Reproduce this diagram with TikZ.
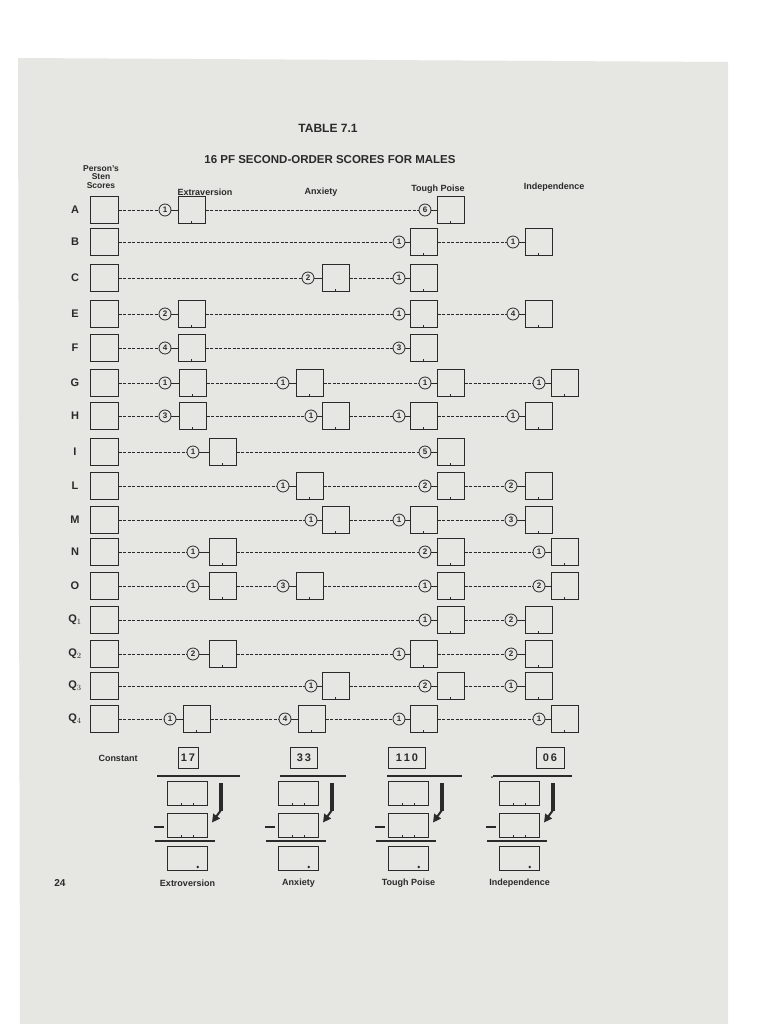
\documentclass[tikz,border=0pt]{standalone}
\usepackage{fontspec}
\setmainfont{Liberation Sans}
\usetikzlibrary{arrows.meta,calc}
\definecolor{paper}{HTML}{E6E6E2}
\definecolor{ink}{HTML}{2A2A2A}
\tikzset{
  lab/.style={font=\bfseries\fontsize{9}{10}\selectfont, text=ink},
  rlab/.style={font=\bfseries\fontsize{11}{11}\selectfont, text=ink},
  pbox/.style={draw=ink, line width=1pt, minimum width=28pt, minimum height=27pt, inner sep=0},
  sbox/.style={draw=ink, line width=1pt, minimum width=27pt, minimum height=27pt, inner sep=0},
  circ/.style={draw=ink, circle, line width=0.8pt, minimum size=12pt, inner sep=0, font=\bfseries\fontsize{8}{8}\selectfont, text=ink},
  conn/.style={draw=ink, line width=0.7pt, dash pattern=on 3pt off 1.5pt},
  wbox/.style={draw=ink, line width=1pt, minimum width=40pt, minimum height=24pt, inner sep=0},
  hl/.style={draw=ink, line width=1.1pt},
}
\newcommand\sfrow[4]{%
  \node[rlab] (#3-l) at (75,#1) {#2};
  \node[pbox] (#3-0) at (104,#1) {};
  \foreach \cx/\bx/\n [count=\i, remember=\i as \j (initially 0)] in {#4} {
    \node[circ] (#3-c\i) at (\cx,#1) {\n};
    \node[sbox] (#3-\i) at (\bx+13.5,#1) {};
    \draw[conn] (#3-\j.east) -- (#3-c\i.west);
    \draw[ink, line width=0.8pt] (#3-c\i.east) -- (#3-\i.west);
    \draw[ink, line width=0.9pt] (#3-\i.south) -- ++(0,-3);
  }}
\newcommand\sfcol[5]{% #1 box left x, #2 name, #3 label, #4 line start, #5 line end
  \node[wbox, anchor=north west] (#2-a) at (#1,781) {};
  \node[wbox, anchor=north west] (#2-b) at (#1,813) {};
  \node[wbox, anchor=north west] (#2-r) at (#1,846) {};
  \foreach \f in {0.36,0.64} {
    \draw[ink, line width=0.9pt] ($(#2-a.south west)!\f!(#2-a.south east)$) -- ++(0,-3);
    \draw[ink, line width=0.9pt] ($(#2-b.south west)!\f!(#2-b.south east)$) -- ++(0,-3);
  }
  \fill[ink] ($(#2-r.south west)!0.75!(#2-r.south east)+(0,-4)$) circle (1.3pt);
  \draw[ink, line width=2pt] ($(#2-b.west)+(-13,1)$) coordinate (#2-m1) -- ($(#2-b.west)+(-3,1)$) coordinate (#2-m2);
  \draw[hl] (#4,776) -- (#5,776);
  \draw[hl] ($(#2-b.south west)+(-12,3)$) -- ($(#2-b.south east)+(7,3)$);
  \draw[ink, line width=4pt] ($(#2-a.north east)+(13,2)$) -- ($(#2-a.north east)+(13,30)$);
  \draw[ink, line width=2pt, -{Triangle[length=8pt,width=8pt]}] ($(#2-a.north east)+(13,29)$) -- ($(#2-b.east)+(4,-3)$);
  \node[lab] (#2-lab) at ($(#2-r.south)+(0,12)$) {#3};
}
\begin{document}
\begin{tikzpicture}[x=1pt,y=-1pt]
\useasboundingbox (0,0) rectangle (768,1024);
\fill[white] (0,0) rectangle (768,1024);
\fill[paper] (18,58) -- (728,62) -- (728,1024) -- (20,1024) -- cycle;

\node[lab, font=\bfseries\fontsize{12}{13}\selectfont] (title) at (328,128) {TABLE 7.1};
\node[lab, font=\bfseries\fontsize{11.5}{13}\selectfont] (sub) at (330,160) {16 PF SECOND-ORDER SCORES FOR MALES};
\node[lab, align=center, font=\bfseries\fontsize{8.5}{8.5}\selectfont] (pss) at (101,177) {Person's\\Sten\\Scores};
\node[lab] (h1) at (205,192) {Extraversion};
\node[lab] (h2) at (321,192) {Anxiety};
\node[lab] (h3) at (438,189) {Tough Poise};
\node[lab] (h4) at (554,187) {Independence};

\sfrow{210}{A}{rA}{165/178/1, 425/437/6}
\sfrow{242}{B}{rB}{399/410/1, 513/525/1}
\sfrow{278}{C}{rC}{308/322/2, 399/410/1}
\sfrow{314}{E}{rE}{165/178/2, 399/410/1, 513/525/4}
\sfrow{348}{F}{rF}{165/178/4, 399/410/3}
\sfrow{383}{G}{rG}{165/179/1, 283/296/1, 425/437/1, 539/551/1}
\sfrow{416}{H}{rH}{165/179/3, 311/322/1, 399/410/1, 513/525/1}
\sfrow{452}{I}{rI}{193/209/1, 425/437/5}
\sfrow{486}{L}{rL}{283/296/1, 425/437/2, 511/525/2}
\sfrow{520}{M}{rM}{311/322/1, 399/410/1, 511/525/3}
\sfrow{552}{N}{rN}{193/209/1, 425/437/2, 539/551/1}
\sfrow{586}{O}{rO}{193/209/1, 283/296/3, 425/437/1, 539/551/2}
\sfrow{620}{Q$_1$}{rQa}{425/437/1, 511/525/2}
\sfrow{654}{Q$_2$}{rQb}{193/209/2, 399/410/1, 511/525/2}
\sfrow{686}{Q$_3$}{rQc}{311/322/1, 425/437/2, 511/525/1}
\sfrow{719}{Q$_4$}{rQd}{170/183/1, 285/298/4, 399/410/1, 539/551/1}

\node[lab] (const) at (118,758) {Constant};
\tikzset{kbox/.style={draw=ink, line width=1pt, minimum height=21pt, inner sep=1pt, text=ink, font=\bfseries\fontsize{11}{11}\selectfont}}
\node[kbox, minimum width=20pt] (k1) at (188,758) {1\,7};
\node[kbox, minimum width=27pt] (k2) at (304,758) {3\,3};
\node[kbox, minimum width=37pt] (k3) at (407,758) {1\,1\,0};
\node[kbox, minimum width=28pt] (k4) at (550,758) {0\,6};

\sfcol{167}{e}{Extroversion}{157}{240}
\sfcol{278}{x}{Anxiety}{280}{346}
\sfcol{388}{t}{Tough Poise}{387}{462}
\sfcol{499}{d}{Independence}{493}{572}
\fill[ink] (492,777) circle (1pt);

\node[lab, font=\bfseries\fontsize{10}{10}\selectfont] (pg) at (60,883) {24};
\end{tikzpicture}
\end{document}
